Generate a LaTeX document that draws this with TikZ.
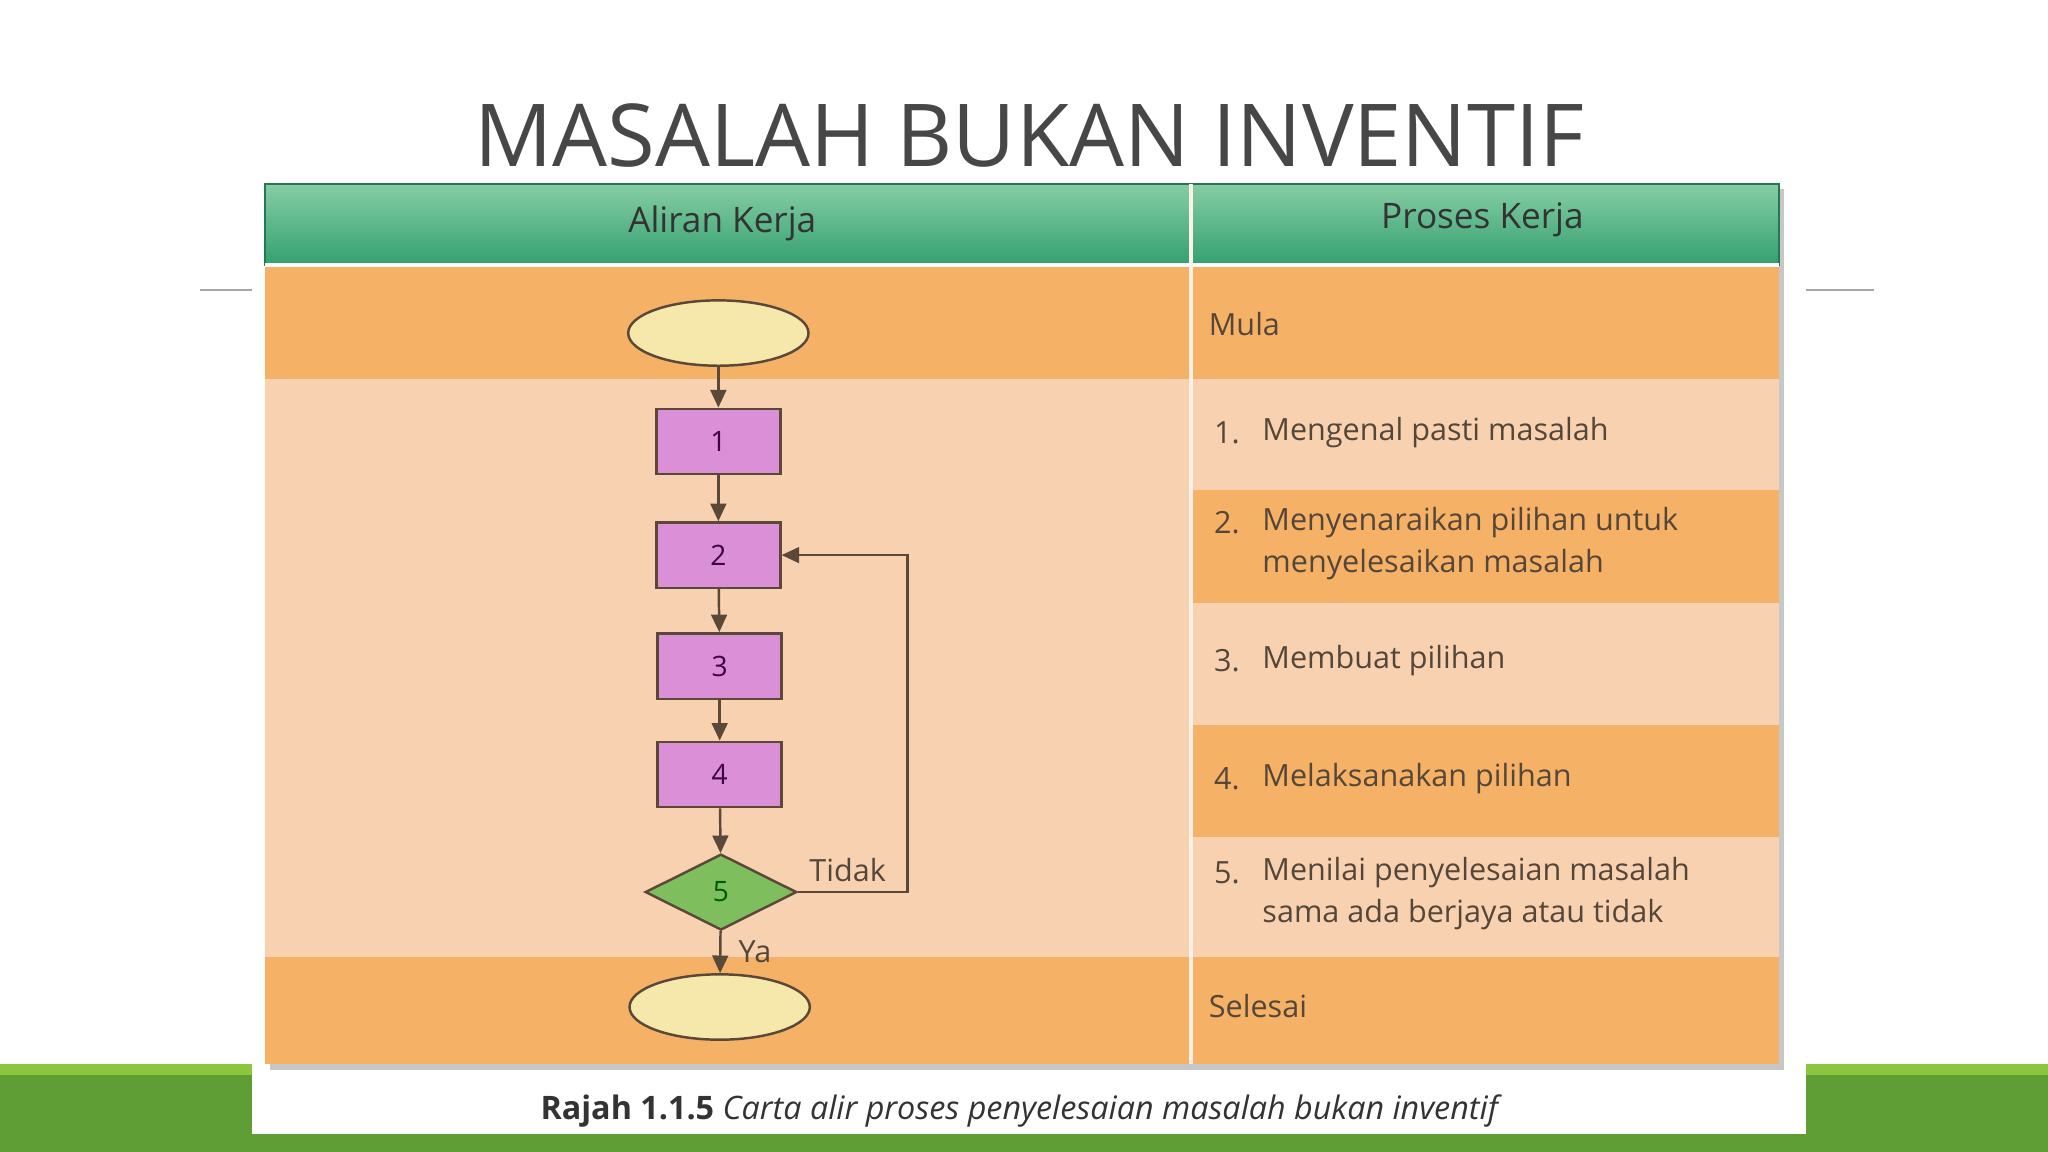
\documentclass[tikz,border=0pt]{standalone}
\usepackage{fontspec}
\setmainfont{Open Sans}
\usetikzlibrary{positioning,shapes.geometric,arrows.meta}
\definecolor{rowdark}{HTML}{F5B166}
\definecolor{rowlight}{HTML}{F8D2B0}
\definecolor{headtop}{HTML}{86CDA4}
\definecolor{headbot}{HTML}{33A070}
\definecolor{linebrown}{HTML}{5A4838}
\definecolor{boxpink}{HTML}{DA8FD6}
\definecolor{boxgreen}{HTML}{7EBE5C}
\definecolor{endyellow}{HTML}{F6E8AA}
\definecolor{textbrown}{HTML}{54473A}
\definecolor{slidegreen}{HTML}{5F9E34}
\definecolor{slidelight}{HTML}{8CC63F}
\definecolor{titlegray}{HTML}{474747}
\newcommand{\tabfont}{\fontsize{8.7}{12}\selectfont}

\begin{document}
\begin{tikzpicture}[x=0.013061cm,y=-0.013061cm,
  flow/.style={draw=linebrown,line width=0.7pt},
  arr/.style={flow,-{Triangle[length=5pt,width=4.5pt]}},
  endpt/.style={flow,ellipse,fill=endyellow,minimum width=51.3pt,minimum height=18.6pt,inner sep=0pt},
  stepbox/.style={flow,rectangle,fill=boxpink,minimum width=35.3pt,minimum height=18.6pt,inner sep=0pt,
    text=violet!50!black,font=\fontsize{8}{10}\selectfont},
  decide/.style={flow,diamond,fill=boxgreen,minimum width=43.1pt,minimum height=21.6pt,inner sep=0pt,
    text=green!35!black,font=\fontsize{8}{10}\selectfont},
  label/.style={text=textbrown,font=\tabfont,inner sep=0pt},
  rowtext/.style={label,anchor=west,align=left},
  headtext/.style={text=black!80,font=\fontsize{10}{12}\selectfont,inner sep=0pt}]
\useasboundingbox (0,0) rectangle (1568,882);
% slide
\fill[white] (0,0) rectangle (1568,882);
\draw[black!35,line width=0.5pt] (153,222) -- (1435,222);
\fill[slidegreen] (0,815) rectangle (1568,882);
\fill[slidelight] (0,815) rectangle (1568,823);
\node[text=titlegray,font=\fontsize{24.7}{30}\selectfont] (title) at (788,104) {MASALAH BUKAN INVENTIF};
% scanned figure
\fill[white] (193,136) rectangle (1383,868);
\fill[black!22] (207,145) rectangle (1366,819);
\fill[rowlight] (203,203) rectangle (1362,815);
\fill[rowdark] (203,203) rectangle (1362,290);
\fill[rowdark] (912,375) rectangle (1362,462);
\fill[rowdark] (912,555) rectangle (1362,641);
\fill[rowdark] (203,733) rectangle (1362,815);
\shade[top color=headtop,bottom color=headbot] (203,141) rectangle (1362,203);
\draw[headbot!75!black,line width=0.6pt] (203,141) rectangle (1362,203);
\draw[white,line width=1pt] (203,203) -- (1362,203);
\draw[white!70!rowlight,line width=1pt] (912,141) -- (912,815);
\node[headtext] (hflow) at (553,171) {Aliran Kerja};
\node[headtext] (hproc) at (1135,168) {Proses Kerja};
% process column
\node[rowtext] (t0) at (925,248) {Mula};
\node[rowtext] (n1) at (929,331) {1.};
\node[rowtext] (t1) at (966,331) {Mengenal pasti masalah};
\node[rowtext] (n2) at (929,400) {2.};
\node[rowtext] (t2) at (966,416) {Menyenaraikan pilihan untuk\\menyelesaikan masalah};
\node[rowtext] (n3) at (929,506) {3.};
\node[rowtext] (t3) at (966,506) {Membuat pilihan};
\node[rowtext] (n4) at (929,596) {4.};
\node[rowtext] (t4) at (966,596) {Melaksanakan pilihan};
\node[rowtext] (n5) at (929,668) {5.};
\node[rowtext] (t5) at (966,684) {Menilai penyelesaian masalah\\sama ada berjaya atau tidak};
\node[rowtext] (t6) at (925,770) {Selesai};
% flow column
\node[endpt] (start) at (550,255) {};
\node[stepbox] (b1) at (550,338) {1};
\node[stepbox] (b2) at (550,425) {2};
\node[stepbox] (b3) at (551,510) {3};
\node[stepbox] (b4) at (551,593) {4};
\node[decide] (d5) at (552,683) {5};
\node[endpt] (stop) at (551,771) {};
\draw[arr] (start) -- (b1);
\draw[arr] (b1) -- (b2);
\draw[arr] (b2) -- (b3);
\draw[arr] (b3) -- (b4);
\draw[arr] (b4) -- (d5);
\draw[arr] (d5) -- (stop);
\draw[arr] (d5.east) -- ++(84,0) |- (b2.east);
\node[label] (no) at (649,666) {Tidak};
\node[label] (yes) at (578,729) {Ya};
% caption
\node[text=black!80,font=\fontsize{9.2}{11}\selectfont] (cap) at (782,851)
  {\textbf{Rajah 1.1.5} \textit{Carta alir proses penyelesaian masalah bukan inventif}};
\end{tikzpicture}
\end{document}
